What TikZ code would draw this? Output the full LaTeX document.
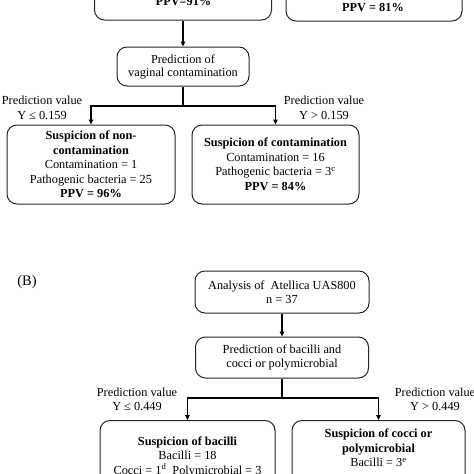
\documentclass[tikz,border=0pt]{standalone}
\usepackage{fontspec}
\setmainfont{Liberation Serif}
\usetikzlibrary{arrows.meta}
\newcommand\myfs{\fontsize{12.3}{14.5}\selectfont}
\begin{document}
\begin{tikzpicture}[x=1pt,y=-1pt,
  box/.style={draw=black!85, rounded corners=10pt, line width=1pt, align=center, font=\myfs, inner sep=0pt},
  lbl/.style={align=center, font=\myfs, inner sep=0pt},
  conn/.style={line width=1.4pt},
  arr/.style={line width=1.4pt, -{Triangle[length=5pt,width=4.5pt]}}]
\useasboundingbox (0,0) rectangle (474,474);
\clip (0,0) rectangle (474,474);
% ---------- Part A ----------
\node[box, minimum width=177pt, minimum height=80pt] (topL) at (183,-20) {};
\node[lbl, font=\myfs\bfseries, anchor=base] (ppvL) at (183.5,5.5) {PPV=91\%};
\node[box, minimum width=176pt, minimum height=80pt] (topR) at (374,-19) {};
\node[lbl, font=\myfs\bfseries, anchor=base] (ppvR) at (373,11.5) {PPV = 81\%};
\node[box, minimum width=132pt, minimum height=39pt, font=\fontsize{12.3}{13}\selectfont] (pred1) at (183,66.5) {Prediction of\\vaginal contamination};
\node[box, minimum width=168pt, minimum height=79pt] (L1) at (91,164.5)
  {\textbf{Suspicion of non-}\\\textbf{contamination}\\Contamination = 1\\Pathogenic bacteria = 25\\\textbf{PPV = 96\%}};
\node[box, minimum width=167pt, minimum height=79pt] (R1) at (275.5,164.5)
  {\textbf{Suspicion of contamination}\\Contamination = 16\\Pathogenic bacteria = 3\textsuperscript{c}\\\textbf{PPV = 84\%}};
\coordinate (j1) at (183,106);
\draw[arr] (topL.south) -- (pred1.north);
\draw[conn] (pred1.south) -- (j1);
\draw[arr] (j1) -| (L1.north);
\draw[arr] (j1) -| (R1.north);
\node[lbl] (labL1) at (42,108) {Prediction value\\Y ≤ 0.159};
\node[lbl] (labR1) at (324,108) {Prediction value\\Y > 0.159};
% ---------- Part B ----------
\node[lbl, font=\fontsize{14.5}{16}\selectfont] (B) at (27,282) {(B)};
\node[box, minimum width=174pt, minimum height=42pt] (an2) at (282,292) {Analysis of~ Atellica UAS800\\n = 37};
\node[box, minimum width=173pt, minimum height=41pt] (pred2) at (282,357.5) {Prediction of bacilli and\\cocci or polymicrobial};
\node[box, minimum width=175pt, minimum height=100pt, anchor=north] (L2) at (187.5,420) {};
\node[lbl] (L2t) at (187.5,456.5) {\textbf{Suspicion of bacilli}\\Bacilli = 18\\Cocci = 1\textsuperscript{d}~ Polymicrobial = 3};
\node[box, minimum width=173pt, minimum height=100pt, anchor=north] (R2) at (378.5,420) {};
\node[lbl] (R2t) at (378.5,448) {\textbf{Suspicion of cocci or}\\\textbf{polymicrobial}\\Bacilli = 3\textsuperscript{e}};
\coordinate (j2) at (282,398);
\draw[arr] (an2.south) -- (pred2.north);
\draw[conn] (pred2.south) -- (j2);
\draw[arr] (j2) -| (L2.north);
\draw[arr] (j2) -| (R2.north);
\node[lbl] (labL2) at (137,399.5) {Prediction value\\Y ≤ 0.449};
\node[lbl] (labR2) at (435,399.5) {Prediction value\\Y > 0.449};
\end{tikzpicture}
\end{document}
